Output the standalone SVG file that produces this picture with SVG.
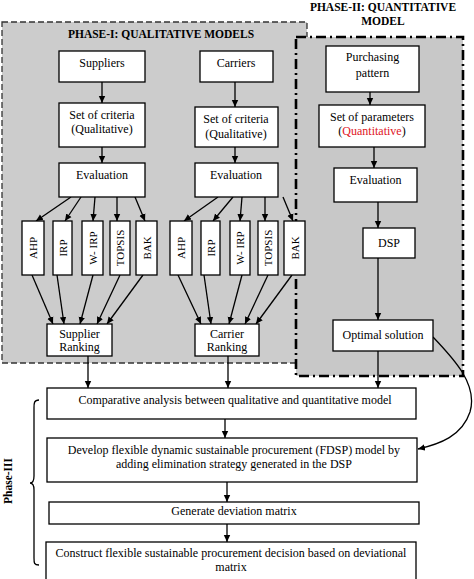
<svg xmlns="http://www.w3.org/2000/svg" width="474" height="579" viewBox="0 0 474 579">
<defs>
<marker id="ah" markerWidth="8" markerHeight="8" refX="7" refY="4" orient="auto" markerUnits="userSpaceOnUse">
<path d="M0,0.8 L7,4 L0,7.2 Z" fill="#000"/>
</marker>
<style>
.bx{fill:#fff;stroke:#000;stroke-width:1.3}
.t{font-family:"Liberation Serif","Times New Roman",serif;font-size:12px;fill:#000;text-anchor:middle}
.ts{font-family:"Liberation Serif","Times New Roman",serif;font-size:11px;fill:#000;text-anchor:middle}
.h{font-family:"Liberation Serif","Times New Roman",serif;font-size:11.5px;font-weight:bold;fill:#000;text-anchor:middle}
.c{fill:none;stroke:#000;stroke-width:1.3;marker-end:url(#ah)}
</style>
</defs>
<rect width="474" height="579" fill="#fff"/>
<g id="phase1-region">
<rect x="2" y="22" width="305" height="341" fill="#cccccc" stroke="#333" stroke-width="1.3" stroke-dasharray="6,3"/>
<text class="h" x="161" y="38">PHASE-I: QUALITATIVE MODELS</text>
</g>
<g id="phase2-region">
<rect x="296" y="37" width="167" height="339" fill="#c8c8c8" stroke="#000" stroke-width="2.6" stroke-dasharray="10,4,2,4"/>
<text class="h" x="383" y="11">PHASE-II: QUANTITATIVE</text>
<text class="h" x="383" y="25">MODEL</text>
</g>
<g id="connectors">
<line class="c" x1="102" y1="82" x2="102" y2="103"/>
<line class="c" x1="235" y1="82" x2="235" y2="107"/>
<line class="c" x1="102" y1="147" x2="102" y2="163"/>
<line class="c" x1="235" y1="147" x2="235" y2="163"/>
<line class="c" x1="71" y1="197" x2="36" y2="221"/>
<line class="c" x1="81" y1="197" x2="65" y2="221"/>
<line class="c" x1="95" y1="197" x2="93" y2="221"/>
<line class="c" x1="117" y1="197" x2="117" y2="221"/>
<line class="c" x1="135" y1="197" x2="145" y2="221"/>
<line class="c" x1="218" y1="197" x2="184" y2="221"/>
<line class="c" x1="233" y1="197" x2="213" y2="221"/>
<line class="c" x1="242" y1="197" x2="240" y2="221"/>
<line class="c" x1="265" y1="197" x2="265" y2="221"/>
<line class="c" x1="283" y1="197" x2="293" y2="221"/>
<line class="c" x1="32" y1="275" x2="53" y2="324"/>
<line class="c" x1="57" y1="275" x2="64" y2="324"/>
<line class="c" x1="93" y1="275" x2="80" y2="324"/>
<line class="c" x1="120" y1="275" x2="97" y2="324"/>
<line class="c" x1="143" y1="275" x2="107" y2="324"/>
<line class="c" x1="178" y1="275" x2="201" y2="324"/>
<line class="c" x1="204" y1="275" x2="211" y2="324"/>
<line class="c" x1="242" y1="275" x2="229" y2="324"/>
<line class="c" x1="268" y1="275" x2="245" y2="324"/>
<line class="c" x1="292" y1="275" x2="256" y2="324"/>
<line class="c" x1="88" y1="356" x2="88" y2="388"/>
<line class="c" x1="228" y1="356" x2="228" y2="388"/>
<line class="c" x1="370" y1="92" x2="370" y2="105"/>
<line class="c" x1="374" y1="147" x2="374" y2="168"/>
<line class="c" x1="378" y1="202" x2="378" y2="228"/>
<line class="c" x1="378" y1="258" x2="378" y2="320"/>
<line class="c" x1="378" y1="351" x2="378" y2="388"/>
<path class="c" d="M433,337 C455,360 478,385 470,412 C462,436 440,444 418,449"/>
<line class="c" x1="225" y1="419" x2="225" y2="438"/>
<line class="c" x1="227" y1="482" x2="227" y2="502"/>
<line class="c" x1="227" y1="524" x2="227" y2="542"/>
</g>
<g id="suppliers"><rect class="bx" x="59" y="51" width="86" height="31"/><text class="t" x="102" y="67">Suppliers</text></g>
<g id="carriers"><rect class="bx" x="200" y="51" width="73" height="31"/><text class="t" x="236" y="67">Carriers</text></g>
<g id="criteria-s"><rect class="bx" x="59" y="103" width="86" height="44"/><text class="t" x="102" y="119">Set of criteria</text><text class="t" x="102" y="133">(Qualitative)</text></g>
<g id="criteria-c"><rect class="bx" x="195" y="107" width="83" height="40"/><text class="t" x="236" y="123">Set of criteria</text><text class="t" x="236" y="138">(Qualitative)</text></g>
<g id="eval-s"><rect class="bx" x="59" y="163" width="86" height="34"/><text class="t" x="102" y="179">Evaluation</text></g>
<g id="eval-c"><rect class="bx" x="195" y="163" width="83" height="34"/><text class="t" x="236" y="179">Evaluation</text></g>
<g id="ahp-s"><rect class="bx" x="22" y="221" width="22" height="54"/><text class="ts" transform="translate(37,248) rotate(-90)">AHP</text></g>
<g id="irp-s"><rect class="bx" x="53" y="221" width="19" height="54"/><text class="ts" transform="translate(66.5,248) rotate(-90)">IRP</text></g>
<g id="wirp-s"><rect class="bx" x="82" y="221" width="21" height="54"/><text class="ts" transform="translate(96.5,248) rotate(-90)">W- IRP</text></g>
<g id="topsis-s"><rect class="bx" x="110" y="221" width="20" height="54"/><text class="ts" transform="translate(124,248) rotate(-90)">TOPSIS</text></g>
<g id="bak-s"><rect class="bx" x="136" y="221" width="21" height="54"/><text class="ts" transform="translate(150.5,248) rotate(-90)">BAK</text></g>
<g id="ahp-c"><rect class="bx" x="170" y="221" width="22" height="54"/><text class="ts" transform="translate(185,248) rotate(-90)">AHP</text></g>
<g id="irp-c"><rect class="bx" x="201" y="221" width="19" height="54"/><text class="ts" transform="translate(214.5,248) rotate(-90)">IRP</text></g>
<g id="wirp-c"><rect class="bx" x="230" y="221" width="20" height="54"/><text class="ts" transform="translate(244,248) rotate(-90)">W- IRP</text></g>
<g id="topsis-c"><rect class="bx" x="258" y="221" width="20" height="54"/><text class="ts" transform="translate(272,248) rotate(-90)">TOPSIS</text></g>
<g id="bak-c"><rect class="bx" x="284" y="221" width="21" height="54"/><text class="ts" transform="translate(298.5,248) rotate(-90)">BAK</text></g>
<g id="supplier-ranking"><rect class="bx" x="47" y="324" width="65" height="32"/><text class="t" x="79.5" y="338">Supplier</text><text class="t" x="79.5" y="351">Ranking</text></g>
<g id="carrier-ranking"><rect class="bx" x="195" y="324" width="64" height="32"/><text class="t" x="227" y="338">Carrier</text><text class="t" x="227" y="351">Ranking</text></g>
<g id="purchasing"><rect class="bx" x="326" y="46" width="93" height="46"/><text class="t" x="372.5" y="61">Purchasing</text><text class="t" x="372.5" y="77">pattern</text></g>
<g id="parameters"><rect class="bx" x="319" y="105" width="106" height="42"/><text class="t" x="372" y="121">Set of parameters</text><text class="t" x="372" y="135">(<tspan fill="#e0141e">Quantitative</tspan>)</text></g>
<g id="eval-q"><rect class="bx" x="334" y="168" width="83" height="34"/><text class="t" x="375.5" y="184">Evaluation</text></g>
<g id="dsp"><rect class="bx" x="363" y="228" width="52" height="30"/><text class="t" x="389" y="247">DSP</text></g>
<g id="optimal"><rect class="bx" x="333" y="320" width="100" height="31"/><text class="t" x="383" y="339">Optimal solution</text></g>
<g id="comparative"><rect class="bx" x="47" y="388" width="369" height="31"/><text class="t" x="235" y="404">Comparative analysis between qualitative and quantitative model</text></g>
<g id="develop"><rect class="bx" x="47" y="438" width="370" height="44"/><text class="t" x="234" y="454">Develop flexible dynamic sustainable procurement (FDSP) model by</text><text class="t" x="234" y="468">adding elimination strategy generated in the DSP</text></g>
<g id="generate"><rect class="bx" x="49" y="502" width="370" height="22"/><text class="t" x="234" y="515">Generate deviation matrix</text></g>
<g id="construct"><rect class="bx" x="46" y="542" width="370" height="40"/><text class="t" x="231" y="557">Construct flexible sustainable procurement decision based on deviational</text><text class="t" x="231" y="571">matrix</text></g>
<g id="phase3">
<path d="M39,400 C34,400 34,403 34,408 L34,476 C34,481 33,483 30,483 C33,483 34,485 34,490 L34,558 C34,563 34,565 39,565" fill="none" stroke="#000" stroke-width="1.3"/>
<text class="h" transform="translate(12,481) rotate(-90)">Phase-III</text>
</g>
</svg>
